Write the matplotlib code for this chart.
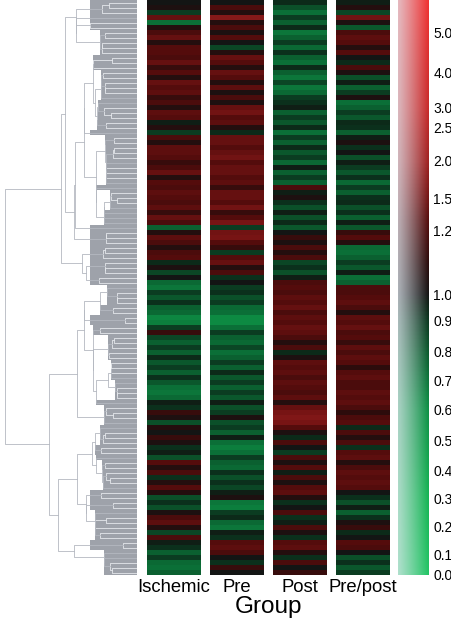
import numpy as np
import matplotlib
matplotlib.use('Agg')
import matplotlib.pyplot as plt
from matplotlib.colors import LinearSegmentedColormap, FuncNorm, to_rgb

plt.rcParams['font.family'] = ['Liberation Sans', 'DejaVu Sans']

# expression ratios per gene row (top to bottom)
groups = ['Ischemic', 'Pre', 'Post', 'Pre/post']

ischemic = [1.0, 1.04, 0.89, 1.42, 0.72, 1.07, 1.21, 1.42, 1.07, 1.28, 1.28, 1.21, 1.42, 1.14, 1.28, 1.07, 1.42, 1.28, 1.35, 1.14,
            1.21, 1.07, 1.35, 1.28, 0.97, 1.07, 0.89, 1.21, 1.07, 1.35, 1.35, 1.28, 1.14, 1.21, 1.42, 1.07, 1.28, 1.21, 1.35,
            1.28, 1.21, 1.35, 1.14, 1.42, 1.21, 0.78, 1.07, 1.35, 1.21, 1.07, 1.21, 1.28, 0.94, 1.04, 0.86, 1.0, 0.75, 0.70,
            0.89, 0.81, 0.92, 0.78, 0.75, 0.64, 0.67, 0.89, 1.14, 0.86, 0.78, 0.89, 0.78, 0.94, 0.81, 0.89, 0.78, 0.92, 0.81,
            0.72, 0.70, 0.75, 0.97, 0.92, 1.14, 1.04, 0.83, 1.07, 1.0, 1.14, 1.04, 0.92, 0.97, 0.83, 1.28, 1.07, 1.21, 0.92,
            1.07, 1.28, 1.07, 0.83, 0.92, 0.83, 1.04, 1.21, 1.35, 1.07, 0.86, 1.21, 0.97, 0.92, 0.78, 0.89, 0.75, 0.72, 0.78]

pre = [1.0, 1.21, 1.07, 1.7, 1.07, 1.21, 1.04, 1.28, 1.0, 0.86, 1.07, 1.42, 1.28, 1.07, 1.42, 1.28, 1.07, 1.35, 1.04, 1.21,
       1.04, 1.42, 1.49, 1.28, 1.35, 1.07, 0.94, 1.42, 1.42, 1.28, 1.42, 1.49, 1.28, 1.42, 1.42, 1.28, 1.35, 1.14, 1.42,
       1.42, 1.28, 1.49, 1.14, 1.28, 1.56, 0.89, 1.49, 1.56, 1.28, 1.14, 0.89, 1.28, 1.42, 1.07, 1.21, 0.92, 1.0, 0.89,
       0.92, 0.83, 0.89, 0.75, 0.72, 0.62, 0.62, 0.72, 0.89, 0.78, 0.75, 0.86, 0.72, 0.78, 0.89, 0.78, 0.94, 0.81, 0.89,
       0.78, 0.89, 0.81, 0.97, 0.83, 0.89, 1.04, 0.83, 0.89, 0.78, 0.97, 0.72, 0.67, 0.72, 0.89, 0.78, 0.75, 0.92, 0.83,
       0.92, 0.86, 0.97, 1.04, 0.70, 0.67, 0.89, 0.94, 0.75, 0.70, 0.97, 0.92, 1.28, 1.35, 1.21, 1.0, 0.92, 1.14, 1.0]

post = [0.94, 0.83, 0.72, 0.89, 0.78, 0.94, 0.70, 0.78, 0.89, 0.75, 0.92, 0.78, 0.72, 0.94, 0.78, 0.70, 0.86, 0.70, 0.75, 0.89,
        0.92, 0.97, 0.78, 0.89, 0.81, 0.94, 0.72, 0.89, 0.78, 0.94, 0.81, 0.89, 0.75, 0.97, 0.78, 0.89, 0.78, 1.21, 0.97,
        1.04, 0.92, 0.83, 0.97, 0.83, 0.94, 0.81, 1.0, 1.14, 1.04, 1.21, 1.07, 1.21, 0.86, 0.92, 0.83, 0.97, 1.21, 1.28,
        1.21, 1.35, 1.28, 1.42, 1.21, 1.35, 1.28, 1.42, 1.35, 1.21, 1.07, 1.21, 0.94, 1.04, 1.35, 1.28, 1.35, 1.21, 1.35,
        1.28, 1.21, 1.35, 1.07, 1.42, 1.56, 1.63, 1.56, 1.28, 1.04, 0.94, 1.21, 1.0, 0.89, 1.21, 1.04, 1.28, 0.97, 1.21,
        1.04, 1.28, 1.35, 1.07, 0.92, 1.0, 1.21, 0.92, 0.97, 1.21, 1.04, 0.92, 1.28, 1.35, 1.07, 0.92, 1.21, 1.0, 1.14]

prepost = [0.97, 1.07, 0.86, 1.49, 1.04, 0.81, 1.21, 1.35, 1.28, 1.07, 1.28, 1.0, 0.94, 1.21, 1.04, 0.83, 0.97, 0.78, 0.89, 1.04,
           0.72, 0.78, 0.89, 0.81, 0.94, 0.92, 0.78, 0.97, 1.04, 0.92, 1.0, 0.83, 0.97, 0.89, 0.81, 0.92, 0.75, 0.89, 0.78,
           0.92, 0.94, 0.83, 0.92, 0.78, 0.97, 0.81, 1.14, 1.28, 1.07, 0.75, 0.72, 0.78, 0.89, 0.81, 0.97, 0.72, 0.78, 1.21,
           1.21, 1.28, 1.35, 1.21, 1.07, 1.35, 1.28, 1.42, 1.21, 1.28, 1.14, 1.35, 1.21, 1.35, 1.28, 1.1, 1.28, 1.35, 1.21,
           1.21, 1.35, 1.28, 1.35, 1.21, 1.1, 1.21, 1.28, 0.94, 1.21, 1.07, 1.21, 0.92, 1.28, 1.35, 1.07, 1.21, 1.35, 1.28,
           1.35, 1.28, 1.0, 0.92, 0.83, 0.97, 0.78, 0.92, 1.04, 1.14, 0.94, 1.0, 1.28, 1.21, 1.0, 0.83, 0.92, 0.81, 0.89]

# colour scale ticks and where they sit along the bar (0 = bottom, 1 = top)
cbar_ticks = [0.0, 0.1, 0.2, 0.3, 0.4, 0.5, 0.6, 0.7, 0.8, 0.9, 1.0, 1.2, 1.5, 2.0, 2.5, 3.0, 4.0, 5.0, 5.9]
cbar_pos = [0.002, 0.037, 0.087, 0.134, 0.184, 0.235, 0.290, 0.339, 0.390, 0.443, 0.489, 0.600, 0.656,
            0.722, 0.779, 0.814, 0.875, 0.944, 1.0]
tick_labels = ['0.0', '0.1', '0.2', '0.3', '0.4', '0.5', '0.6', '0.7', '0.8', '0.9', '1.0',
               '1.2', '1.5', '2.0', '2.5', '3.0', '4.0', '5.0']

cmap_vals = [0.0, 0.3, 0.6, 0.7, 0.8, 0.9, 0.96, 1.0, 1.1, 1.3, 1.6, 2.0, 3.0, 5.9]
cmap_cols = ['#22c464', '#16b454', '#0e9045', '#0c763a', '#0b5a2d', '#0b3820', '#0e2216', '#141414',
             '#2c0c0c', '#560d0d', '#7c1616', '#a02222', '#c82a2a', '#f03232']


def fwd(v):
    return np.interp(v, cbar_ticks, cbar_pos)


def inv(p):
    return np.interp(p, cbar_pos, cbar_ticks)


norm = FuncNorm((fwd, inv), vmin=0.0, vmax=5.9)
cmap = LinearSegmentedColormap.from_list(
    'gr', list(zip(norm(np.array(cmap_vals)), cmap_cols)))

data = np.column_stack([ischemic, pre, post, prepost])
n_rows = data.shape[0]


def ordered_ward(x, small=4):
    # ward clustering that only joins neighbouring clusters,
    # so the leaves keep the row order of the heatmap
    clusters = [{'m': [i], 'c': x[i].copy(), 'y': float(i), 'h': 0.0} for i in range(len(x))]
    links = []
    gray_h = np.zeros(len(x))
    while len(clusters) > 1:
        d = []
        for k in range(len(clusters) - 1):
            a, b = clusters[k], clusters[k + 1]
            na, nb = len(a['m']), len(b['m'])
            d.append(np.sqrt(2.0 * na * nb / (na + nb)) * np.linalg.norm(a['c'] - b['c']))
        k = int(np.argmin(d))
        ca, cb = clusters[k], clusters[k + 1]
        h = max(d[k], ca['h'], cb['h'])
        na, nb = len(ca['m']), len(cb['m'])
        if na + nb >= small:
            for c in (ca, cb):
                if len(c['m']) < small:
                    gray_h[c['m']] = h
        links.append((ca['y'], ca['h'], cb['y'], cb['h'], h, na + nb < small))
        clusters[k:k + 2] = [{'m': ca['m'] + cb['m'], 'c': (ca['c'] * na + cb['c'] * nb) / (na + nb),
                              'y': (ca['y'] + cb['y']) / 2, 'h': h}]
    return links, gray_h


links, gray_h = ordered_ward(np.log2(data))

fig = plt.figure(figsize=(4.51, 6.22), dpi=100)
W, H = 451.0, 622.0
bot = 1 - 575 / H
hgt = 575 / H

# dendrogram
axd = fig.add_axes([0, bot, 137 / W, hgt])
sc = lambda h: np.log1p(np.asarray(h) / 0.5)
top_h = sc(links[-1][4])
gray_w = np.clip(sc(gray_h), 0.1 * top_h, 0.36 * top_h)
axd.barh(np.arange(n_rows), gray_w, height=1.0, left=0, color='#9ea2aa', zorder=1)
for ya, ha, yb, hb, h, inner in links:
    col = '#e4e7eb' if inner else '#b4b8c0'
    axd.plot([sc(ha), sc(h), sc(h), sc(hb)], [ya, ya, yb, yb], color=col, lw=0.6, zorder=2)
axd.set_xlim(top_h * 1.04, 0)
axd.set_ylim(n_rows - 0.5, -0.5)
axd.axis('off')

# heatmap columns
lefts = [147, 210, 273, 336]
for j, g in enumerate(groups):
    ax = fig.add_axes([lefts[j] / W, bot, 54 / W, hgt])
    ax.imshow(data[:, j:j + 1], cmap=cmap, norm=norm, aspect='auto', interpolation='nearest')
    ax.set_xticks([])
    ax.set_yticks([])
    for s in ax.spines.values():
        s.set_visible(False)
    fig.text((lefts[j] + 27) / W, 1 - 588 / H, g, ha='center', va='center', fontsize=13.3)

fig.text(268 / W, 1 - 607 / H, 'Group', ha='center', va='center', fontsize=17.5)

# colour bar with a fade to pale on its left side
axc = fig.add_axes([398 / W, bot, 31 / W, hgt])
p = np.linspace(0, 1, 400)
rgb_line = cmap(p)[:, :3]
t = np.linspace(0.33, 1.0, 40) ** 1.2
pale = np.array(to_rgb('#e2eaf2'))
grad = rgb_line[:, None, :] * t[None, :, None] + pale[None, None, :] * (1 - t[None, :, None])
axc.imshow(grad, origin='lower', extent=[0, 1, 0, 1], aspect='auto')
axc.set_xlim(0, 1)
axc.set_ylim(0, 1)
axc.set_xticks([])
axc.yaxis.tick_right()
axc.set_yticks(norm(np.array(cbar_ticks[:-1])))
axc.set_yticklabels(tick_labels, fontsize=10)
axc.tick_params(axis='y', length=0, pad=3)
for s in axc.spines.values():
    s.set_visible(False)

plt.savefig('out.png', dpi=100)
plt.close()
